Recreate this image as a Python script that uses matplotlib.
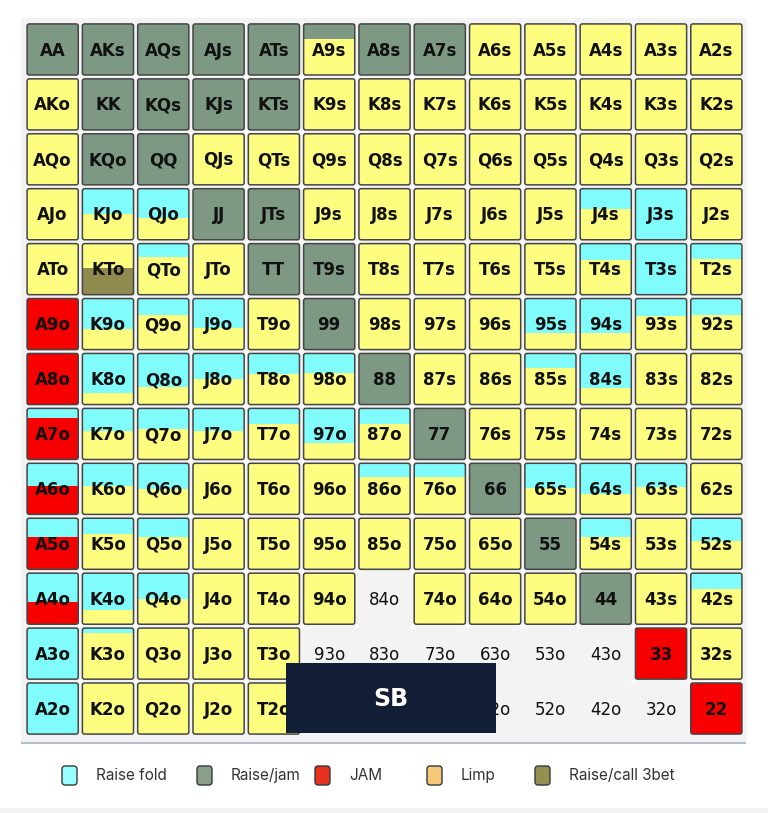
import matplotlib.pyplot as plt
from matplotlib.patches import Rectangle, FancyBboxPatch

ranks = list("AKQJT98765432")

# share of each hand per action, stacked top -> bottom inside a cell
raise_fold = {
    "KJo": 0.50, "QJo": 0.58, "J4s": 0.40, "J3s": 1.0,
    "QTo": 0.27, "T4s": 0.33, "T3s": 1.0, "T2s": 0.30,
    "K9o": 0.60, "Q9o": 0.32, "J9o": 0.57, "95s": 0.67, "94s": 0.67, "93s": 0.34, "92s": 0.33,
    "K8o": 0.77, "Q8o": 0.66, "J8o": 0.50, "T8o": 0.41, "98o": 0.39, "85s": 0.28, "84s": 0.67,
    "A7o": 0.18, "K7o": 0.44, "Q7o": 0.41, "J7o": 0.44, "T7o": 0.31, "97o": 0.67, "87o": 0.30,
    "A6o": 0.45, "K6o": 0.45, "Q6o": 0.50, "86o": 0.27, "76o": 0.27, "65s": 0.48, "64s": 0.60, "63s": 0.46,
    "A5o": 0.37, "K5o": 0.30, "Q5o": 0.37, "54s": 0.37, "52s": 0.45,
    "A4o": 0.57, "K4o": 0.73, "Q4o": 0.50, "42s": 0.32,
    "A3o": 1.0, "K3o": 0.10,
    "A2o": 1.0,
}
raise_jam = {
    "AA": 1, "AKs": 1, "AQs": 1, "AJs": 1, "ATs": 1, "A9s": 0.30, "A8s": 1, "A7s": 1,
    "KK": 1, "KQs": 1, "KJs": 1, "KTs": 1,
    "KQo": 1, "QQ": 1,
    "JJ": 1, "JTs": 1,
    "TT": 1, "T9s": 1,
    "99": 1, "88": 1, "77": 1, "66": 1, "55": 1, "44": 1,
}
jam = {"A9o": 1.0, "A8o": 1.0, "A7o": 0.82, "A6o": 0.55, "A5o": 0.63, "A4o": 0.43, "33": 1.0, "22": 1.0}
raise_call_3bet = {"KTo": 0.53}
not_played = ["84o", "93o", "83o", "73o", "63o", "53o", "43o",
              "92o", "82o", "72o", "62o", "52o", "42o", "32o"]

legend_labels = ["Raise fold", "Raise/jam", "JAM", "Limp", "Raise/call 3bet"]
legend_colors = ["#99ffff", "#8a9f8a", "#e8321f", "#f6c877", "#959052"]

c_fold = "#fdfd80"
c_raise_fold = "#80fcfc"
c_raise_jam = "#7d9883"
c_jam = "#f80000"
c_call = "#8f8a4e"


def hand_name(i, j):
    if i == j:
        return ranks[i] + ranks[j]
    if j > i:
        return ranks[i] + ranks[j] + "s"
    return ranks[j] + ranks[i] + "o"


fig = plt.figure(figsize=(7.68, 8.13), dpi=100)
fig.patch.set_facecolor("white")

# light panel behind the grid
fig.patches.append(Rectangle((21 / 768, 1 - 742 / 813), 726 / 768, 724 / 813,
                             transform=fig.transFigure, fc="#f3f3f3", ec="none", zorder=-2))
fig.add_artist(plt.Line2D([22 / 768, 745 / 768], [1 - 743 / 813] * 2,
                          transform=fig.transFigure, color="#b3c1cf", lw=1.5))
fig.patches.append(Rectangle((0, 0), 1, 5 / 813, transform=fig.transFigure,
                             fc="#f3f3f3", ec="none", zorder=-2))

ax = fig.add_axes([25 / 768, 1 - 736 / 813, 719 / 768, 714 / 813])
ax.set_xlim(0, 13)
ax.set_ylim(13, 0)
ax.axis("off")
ax.patch.set_visible(False)

cw, ch = 0.925, 0.93
gx, gy = (1 - cw) / 2, (1 - ch) / 2

layers = [(raise_fold, c_raise_fold), (raise_jam, c_raise_jam), (jam, c_jam),
          (None, c_fold), (raise_call_3bet, c_call)]

cum = {}
for layer, color in layers:
    xs, hs, bs = [], [], []
    for i in range(13):
        for j in range(13):
            h = hand_name(i, j)
            if h in not_played:
                continue
            if layer is None:
                f = 1 - raise_fold.get(h, 0) - raise_jam.get(h, 0) - jam.get(h, 0) - raise_call_3bet.get(h, 0)
            else:
                f = layer.get(h, 0)
            if f <= 0:
                continue
            c = cum.get(h, 0)
            xs.append(j + 0.5)
            hs.append(f * ch)
            bs.append(i + gy + c * ch)
            cum[h] = c + f
    ax.bar(xs, hs, bottom=bs, width=cw, color=color, linewidth=0, zorder=2)

for i in range(13):
    for j in range(13):
        h = hand_name(i, j)
        if h in not_played:
            ax.text(j + 0.5, i + 0.52, h, ha="center", va="center", fontsize=12,
                    color="#111111", zorder=4)
            continue
        ax.add_patch(FancyBboxPatch((j + gx, i + gy), cw, ch,
                                    boxstyle="round,pad=0,rounding_size=0.04",
                                    fc="none", ec="#454545", lw=1.1, zorder=3))
        ax.text(j + 0.5, i + 0.52, h, ha="center", va="center", fontsize=12,
                fontweight="bold", color="#111111", zorder=4)

# white dots where corners of drawn cells meet
dx, dy = [], []
for i in range(1, 13):
    for j in range(1, 13):
        around = [hand_name(i - a, j - b) for a in (0, 1) for b in (0, 1)]
        if any(h not in not_played for h in around):
            dx.append(j)
            dy.append(i)
ax.scatter(dx, dy, s=7, color="white", zorder=1.5, linewidths=0)

# SB label box
fig.patches.append(Rectangle((286 / 768, 1 - 733 / 813), 210 / 768, 70 / 813,
                             transform=fig.transFigure, fc="#121d36", ec="none", zorder=5))
fig.text(391 / 768, 1 - 699 / 813, "SB", color="white", fontsize=17, fontweight="bold",
         ha="center", va="center", zorder=6)

# legend
sq_x = [62, 197, 315, 427, 535]
for x, lab, col in zip(sq_x, legend_labels, legend_colors):
    fig.patches.append(FancyBboxPatch((x / 768, 1 - 785 / 813), 15 / 768, 19 / 813,
                                      boxstyle="round,pad=0,rounding_size=0.004",
                                      transform=fig.transFigure, fc=col, ec="#2f3a3a",
                                      lw=1.0, zorder=5))
    fig.text((x + 34) / 768, 1 - 775 / 813, lab, fontsize=11, family=["Inter", "DejaVu Sans"],
             color="#333333", ha="left", va="center")

fig.savefig("out.png", dpi=100)
